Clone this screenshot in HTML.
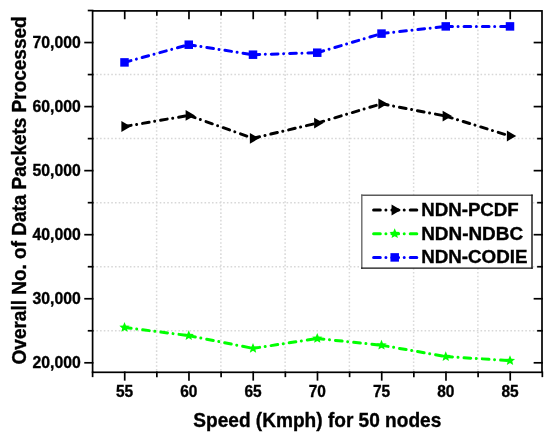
<!DOCTYPE html>
<html><head><meta charset="utf-8"><style>
html,body{margin:0;padding:0;background:#fff;}
svg{display:block;}
</style></head><body>
<svg width="550" height="438" viewBox="0 0 550 438">
<rect width="550" height="438" fill="#fff"/>
<g stroke="#d8d8d8" stroke-width="1.5" stroke-dasharray="1.6 2.13"><line x1="156.62" y1="10.9" x2="156.62" y2="372.3"/><line x1="220.88" y1="10.9" x2="220.88" y2="372.3"/><line x1="285.12" y1="10.9" x2="285.12" y2="372.3"/><line x1="349.38" y1="10.9" x2="349.38" y2="372.3"/><line x1="413.62" y1="10.9" x2="413.62" y2="372.3"/><line x1="477.88" y1="10.9" x2="477.88" y2="372.3"/><line x1="92.6" y1="74.57" x2="542.0" y2="74.57"/><line x1="92.6" y1="138.62" x2="542.0" y2="138.62"/><line x1="92.6" y1="202.68" x2="542.0" y2="202.68"/><line x1="92.6" y1="266.73" x2="542.0" y2="266.73"/><line x1="92.6" y1="330.78" x2="542.0" y2="330.78"/></g>
<g fill="none" stroke="#000" stroke-width="3" stroke-dasharray="6.7 5.6 0.01 6.0" stroke-linecap="round"><line x1="124.50" y1="126.50" x2="188.75" y2="115.40"/><line x1="188.75" y1="115.40" x2="253.00" y2="138.30"/><line x1="253.00" y1="138.30" x2="317.25" y2="123.10"/><line x1="317.25" y1="123.10" x2="381.50" y2="103.80"/><line x1="381.50" y1="103.80" x2="445.75" y2="116.10"/><line x1="445.75" y1="116.10" x2="510.00" y2="136.00"/></g><g fill="#000"><polygon points="121.38,121.10 130.74,126.50 121.38,131.90"/><polygon points="185.63,110.00 194.99,115.40 185.63,120.80"/><polygon points="249.88,132.90 259.24,138.30 249.88,143.70"/><polygon points="314.13,117.70 323.49,123.10 314.13,128.50"/><polygon points="378.38,98.40 387.74,103.80 378.38,109.20"/><polygon points="442.63,110.70 451.99,116.10 442.63,121.50"/><polygon points="506.88,130.60 516.24,136.00 506.88,141.40"/></g>
<g fill="none" stroke="#00ff00" stroke-width="3" stroke-dasharray="6.7 5.6 0.01 6.0" stroke-linecap="round"><line x1="124.50" y1="327.50" x2="188.75" y2="335.60"/><line x1="188.75" y1="335.60" x2="253.00" y2="348.40"/><line x1="253.00" y1="348.40" x2="317.25" y2="338.50"/><line x1="317.25" y1="338.50" x2="381.50" y2="345.20"/><line x1="381.50" y1="345.20" x2="445.75" y2="356.60"/><line x1="445.75" y1="356.60" x2="510.00" y2="360.60"/></g><g fill="#00ff00"><polygon points="124.50,322.10 125.93,325.53 129.64,325.83 126.81,328.25 127.67,331.87 124.50,329.93 121.33,331.87 122.19,328.25 119.36,325.83 123.07,325.53"/><polygon points="188.75,330.20 190.18,333.63 193.89,333.93 191.06,336.35 191.92,339.97 188.75,338.03 185.58,339.97 186.44,336.35 183.61,333.93 187.32,333.63"/><polygon points="253.00,343.00 254.43,346.43 258.14,346.73 255.31,349.15 256.17,352.77 253.00,350.83 249.83,352.77 250.69,349.15 247.86,346.73 251.57,346.43"/><polygon points="317.25,333.10 318.68,336.53 322.39,336.83 319.56,339.25 320.42,342.87 317.25,340.93 314.08,342.87 314.94,339.25 312.11,336.83 315.82,336.53"/><polygon points="381.50,339.80 382.93,343.23 386.64,343.53 383.81,345.95 384.67,349.57 381.50,347.63 378.33,349.57 379.19,345.95 376.36,343.53 380.07,343.23"/><polygon points="445.75,351.20 447.18,354.63 450.89,354.93 448.06,357.35 448.92,360.97 445.75,359.03 442.58,360.97 443.44,357.35 440.61,354.93 444.32,354.63"/><polygon points="510.00,355.20 511.43,358.63 515.14,358.93 512.31,361.35 513.17,364.97 510.00,363.03 506.83,364.97 507.69,361.35 504.86,358.93 508.57,358.63"/></g>
<g fill="none" stroke="#0000ff" stroke-width="3" stroke-dasharray="6.7 5.6 0.01 6.0" stroke-linecap="round"><line x1="124.50" y1="62.40" x2="188.75" y2="44.70"/><line x1="188.75" y1="44.70" x2="253.00" y2="54.70"/><line x1="253.00" y1="54.70" x2="317.25" y2="52.70"/><line x1="317.25" y1="52.70" x2="381.50" y2="33.60"/><line x1="381.50" y1="33.60" x2="445.75" y2="26.40"/><line x1="445.75" y1="26.40" x2="510.00" y2="26.40"/></g><g fill="#0000ff"><rect x="120.25" y="58.15" width="8.5" height="8.5"/><rect x="184.50" y="40.45" width="8.5" height="8.5"/><rect x="248.75" y="50.45" width="8.5" height="8.5"/><rect x="313.00" y="48.45" width="8.5" height="8.5"/><rect x="377.25" y="29.35" width="8.5" height="8.5"/><rect x="441.50" y="22.15" width="8.5" height="8.5"/><rect x="505.75" y="22.15" width="8.5" height="8.5"/></g>
<g stroke="#000" stroke-width="1.7" fill="none" stroke-linecap="square"><rect x="92.6" y="10.9" width="449.40" height="361.40" fill="none"/><line x1="88.60" y1="10.52" x2="92.6" y2="10.52"/><line x1="85.10" y1="42.55" x2="92.6" y2="42.55"/><line x1="534.50" y1="42.55" x2="542.0" y2="42.55"/><line x1="88.60" y1="74.57" x2="92.6" y2="74.57"/><line x1="538.00" y1="74.57" x2="542.0" y2="74.57"/><line x1="85.10" y1="106.60" x2="92.6" y2="106.60"/><line x1="534.50" y1="106.60" x2="542.0" y2="106.60"/><line x1="88.60" y1="138.62" x2="92.6" y2="138.62"/><line x1="538.00" y1="138.62" x2="542.0" y2="138.62"/><line x1="85.10" y1="170.65" x2="92.6" y2="170.65"/><line x1="534.50" y1="170.65" x2="542.0" y2="170.65"/><line x1="88.60" y1="202.68" x2="92.6" y2="202.68"/><line x1="538.00" y1="202.68" x2="542.0" y2="202.68"/><line x1="85.10" y1="234.70" x2="92.6" y2="234.70"/><line x1="534.50" y1="234.70" x2="542.0" y2="234.70"/><line x1="88.60" y1="266.73" x2="92.6" y2="266.73"/><line x1="538.00" y1="266.73" x2="542.0" y2="266.73"/><line x1="85.10" y1="298.75" x2="92.6" y2="298.75"/><line x1="534.50" y1="298.75" x2="542.0" y2="298.75"/><line x1="88.60" y1="330.78" x2="92.6" y2="330.78"/><line x1="538.00" y1="330.78" x2="542.0" y2="330.78"/><line x1="85.10" y1="362.80" x2="92.6" y2="362.80"/><line x1="534.50" y1="362.80" x2="542.0" y2="362.80"/><line x1="92.60" y1="372.3" x2="92.60" y2="376.30"/><line x1="124.72" y1="372.3" x2="124.72" y2="379.80"/><line x1="124.72" y1="10.9" x2="124.72" y2="18.40"/><line x1="156.85" y1="372.3" x2="156.85" y2="376.30"/><line x1="156.85" y1="10.9" x2="156.85" y2="14.90"/><line x1="188.97" y1="372.3" x2="188.97" y2="379.80"/><line x1="188.97" y1="10.9" x2="188.97" y2="18.40"/><line x1="221.10" y1="372.3" x2="221.10" y2="376.30"/><line x1="221.10" y1="10.9" x2="221.10" y2="14.90"/><line x1="253.22" y1="372.3" x2="253.22" y2="379.80"/><line x1="253.22" y1="10.9" x2="253.22" y2="18.40"/><line x1="285.35" y1="372.3" x2="285.35" y2="376.30"/><line x1="285.35" y1="10.9" x2="285.35" y2="14.90"/><line x1="317.48" y1="372.3" x2="317.48" y2="379.80"/><line x1="317.48" y1="10.9" x2="317.48" y2="18.40"/><line x1="349.60" y1="372.3" x2="349.60" y2="376.30"/><line x1="349.60" y1="10.9" x2="349.60" y2="14.90"/><line x1="381.73" y1="372.3" x2="381.73" y2="379.80"/><line x1="381.73" y1="10.9" x2="381.73" y2="18.40"/><line x1="413.85" y1="372.3" x2="413.85" y2="376.30"/><line x1="413.85" y1="10.9" x2="413.85" y2="14.90"/><line x1="445.98" y1="372.3" x2="445.98" y2="379.80"/><line x1="445.98" y1="10.9" x2="445.98" y2="18.40"/><line x1="478.10" y1="372.3" x2="478.10" y2="376.30"/><line x1="478.10" y1="10.9" x2="478.10" y2="14.90"/><line x1="510.23" y1="372.3" x2="510.23" y2="379.80"/><line x1="510.23" y1="10.9" x2="510.23" y2="18.40"/><line x1="542.35" y1="372.3" x2="542.35" y2="376.30"/></g>
<g font-family="Liberation Sans, Arial, sans-serif" font-weight="bold" font-size="16.2" fill="#000" stroke="#000" stroke-width="0.35"><text x="80.8" y="47.75" text-anchor="end" textLength="48.2" lengthAdjust="spacingAndGlyphs">70,000</text><text x="80.8" y="111.80" text-anchor="end" textLength="48.2" lengthAdjust="spacingAndGlyphs">60,000</text><text x="80.8" y="175.85" text-anchor="end" textLength="48.2" lengthAdjust="spacingAndGlyphs">50,000</text><text x="80.8" y="239.90" text-anchor="end" textLength="48.2" lengthAdjust="spacingAndGlyphs">40,000</text><text x="80.8" y="303.95" text-anchor="end" textLength="48.2" lengthAdjust="spacingAndGlyphs">30,000</text><text x="80.8" y="368.00" text-anchor="end" textLength="48.2" lengthAdjust="spacingAndGlyphs">20,000</text><text x="124.50" y="396.8" text-anchor="middle" textLength="17.2" lengthAdjust="spacingAndGlyphs">55</text><text x="188.75" y="396.8" text-anchor="middle" textLength="17.2" lengthAdjust="spacingAndGlyphs">60</text><text x="253.00" y="396.8" text-anchor="middle" textLength="17.2" lengthAdjust="spacingAndGlyphs">65</text><text x="317.25" y="396.8" text-anchor="middle" textLength="17.2" lengthAdjust="spacingAndGlyphs">70</text><text x="381.50" y="396.8" text-anchor="middle" textLength="17.2" lengthAdjust="spacingAndGlyphs">75</text><text x="445.75" y="396.8" text-anchor="middle" textLength="17.2" lengthAdjust="spacingAndGlyphs">80</text><text x="510.00" y="396.8" text-anchor="middle" textLength="17.2" lengthAdjust="spacingAndGlyphs">85</text></g>
<text x="317.3" y="426.9" text-anchor="middle" font-family="Liberation Sans, Arial, sans-serif" font-weight="bold" font-size="19.3" textLength="248" lengthAdjust="spacingAndGlyphs" stroke="#000" stroke-width="0.35">Speed (Kmph) for 50 nodes</text>
<text transform="translate(25.6,190.4) rotate(-90)" text-anchor="middle" font-family="Liberation Sans, Arial, sans-serif" font-weight="bold" font-size="19.3" textLength="348" lengthAdjust="spacingAndGlyphs" stroke="#000" stroke-width="0.35">Overall No. of Data Packets Processed</text>
<rect x="361.8" y="195.3" width="170.2" height="72.8" fill="#fff"/><g stroke-width="1.4" stroke-linecap="square"><line x1="361.8" y1="195.3" x2="532" y2="195.3" stroke="#5a5a5a"/><line x1="361.8" y1="195.3" x2="361.8" y2="268.1" stroke="#6a6a6a"/><line x1="532" y1="195.3" x2="532" y2="268.1" stroke="#111"/><line x1="361.8" y1="268.1" x2="532" y2="268.1" stroke="#111"/></g><line x1="373.6" y1="210.0" x2="416.8" y2="210.0" stroke="#000" stroke-width="3" stroke-dasharray="6.7 5.6 0.01 6.0" stroke-linecap="round"/><g fill="#000"><polygon points="391.58,204.60 400.94,210.00 391.58,215.40"/></g><text x="421.2" y="216.00" font-family="Liberation Sans, Arial, sans-serif" font-weight="bold" font-size="18" textLength="97.6" lengthAdjust="spacingAndGlyphs" stroke="#000" stroke-width="0.35">NDN-PCDF</text><line x1="373.6" y1="233.7" x2="416.8" y2="233.7" stroke="#00ff00" stroke-width="3" stroke-dasharray="6.7 5.6 0.01 6.0" stroke-linecap="round"/><g fill="#00ff00"><polygon points="394.70,228.30 396.13,231.73 399.84,232.03 397.01,234.45 397.87,238.07 394.70,236.13 391.53,238.07 392.39,234.45 389.56,232.03 393.27,231.73"/></g><text x="421.2" y="239.70" font-family="Liberation Sans, Arial, sans-serif" font-weight="bold" font-size="18" textLength="101.9" lengthAdjust="spacingAndGlyphs" stroke="#000" stroke-width="0.35">NDN-NDBC</text><line x1="373.6" y1="257.4" x2="416.8" y2="257.4" stroke="#0000ff" stroke-width="3" stroke-dasharray="6.7 5.6 0.01 6.0" stroke-linecap="round"/><g fill="#0000ff"><rect x="390.45" y="253.15" width="8.5" height="8.5"/></g><text x="421.2" y="263.40" font-family="Liberation Sans, Arial, sans-serif" font-weight="bold" font-size="18" textLength="106.3" lengthAdjust="spacingAndGlyphs" stroke="#000" stroke-width="0.35">NDN-CODIE</text>
</svg>
</body></html>
